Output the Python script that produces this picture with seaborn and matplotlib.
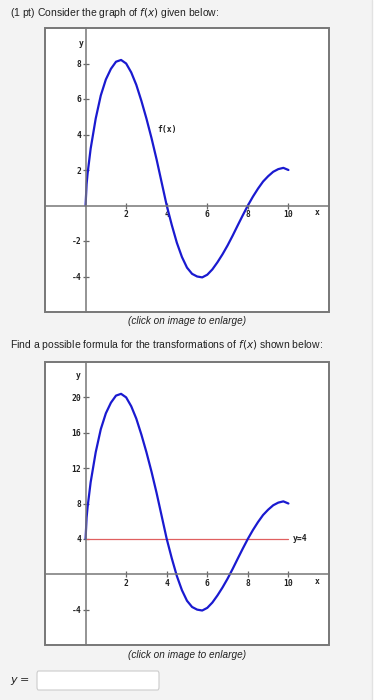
import matplotlib
matplotlib.use("Agg")
import matplotlib.pyplot as plt
import seaborn as sns
import pandas as pd
from matplotlib.patches import Rectangle, FancyBboxPatch

# values
x_vals = [0, 0.05, 0.1, 0.25, 0.5, 0.75, 1.0, 1.25, 1.5, 1.75, 2.0, 2.25, 2.5,
          2.75, 3.0, 3.25, 3.5, 3.75, 4.0, 4.25, 4.5, 4.75, 5.0, 5.25, 5.5,
          5.75, 6.0, 6.25, 6.5, 6.75, 7.0, 7.25, 7.5, 7.75, 8.0, 8.25, 8.5,
          8.75, 9.0, 9.25, 9.5, 9.75, 10.0]
f_vals = [0, 1.2, 1.8, 3.2, 4.9, 6.2, 7.1, 7.7, 8.1, 8.2, 8.0, 7.5, 6.8,
          5.9, 4.9, 3.8, 2.6, 1.3, 0.0, -1.1, -2.1, -2.9, -3.5, -3.85, -4.0,
          -4.05, -3.9, -3.6, -3.2, -2.75, -2.25, -1.7, -1.12, -0.55, 0.0, 0.5, 0.95,
          1.35, 1.65, 1.9, 2.05, 2.12, 2.0]
g_vals = [4, 6.4, 7.6, 10.4, 13.8, 16.4, 18.2, 19.4, 20.2, 20.4, 20.0, 19.0, 17.6,
          15.8, 13.8, 11.6, 9.2, 6.6, 4.0, 1.8, -0.2, -1.8, -3.0, -3.7, -4.0,
          -4.1, -3.8, -3.2, -2.4, -1.5, -0.5, 0.6, 1.76, 2.9, 4.0, 5.0, 5.9,
          6.7, 7.3, 7.8, 8.1, 8.24, 8.0]
line_x = [0, 10]
line_y = [4, 4]

top_xticks = [2, 4, 6, 8, 10]
top_yticks = [-4, -2, 2, 4, 6, 8]
bot_xticks = [2, 4, 6, 8, 10]
bot_yticks = [-4, 4, 8, 12, 16, 20]

df = pd.DataFrame({"x": x_vals, "f": f_vals, "g": g_vals})

sns.set_style("white")
plt.rcParams["font.family"] = ["Liberation Sans", "DejaVu Sans"]

fig = plt.figure(figsize=(3.74, 7.0), dpi=100)
fig.patch.set_facecolor("#f3f3f3")

tick_font = dict(family="DejaVu Sans Mono", weight="bold", size=5.8, color="#222222")


def setup_axes(ax, xlim, ylim, xticks, yticks):
    ax.set_facecolor("white")
    ax.set_xlim(*xlim)
    ax.set_ylim(*ylim)
    for side in ["top", "right"]:
        ax.spines[side].set_visible(False)
    ax.spines["left"].set_position(("data", 0))
    ax.spines["bottom"].set_position(("data", 0))
    for side in ["left", "bottom"]:
        ax.spines[side].set_color("#777777")
        ax.spines[side].set_linewidth(1.1)
    ax.add_patch(Rectangle((0, 0), 1, 1, transform=ax.transAxes, fill=False,
                           edgecolor="#777777", linewidth=1.4, zorder=5, clip_on=False))
    ax.set_xticks(xticks)
    ax.set_yticks(yticks)
    ax.tick_params(axis="both", bottom=True, left=True, direction="inout",
                   length=4, width=0.9, color="#666666", pad=1.2)
    ax.set_xticklabels([str(t) for t in xticks], fontdict=tick_font)
    ax.set_yticklabels([str(t) for t in yticks], fontdict=tick_font)
    ax.set_xlabel("")
    ax.set_ylabel("")


# top graph
ax1 = fig.add_axes([45 / 374, 1 - 312 / 700, 284 / 374, 284 / 700])
sns.lineplot(data=df, x="x", y="f", ax=ax1, color="#1a1ad0", linewidth=1.6,
             sort=False, estimator=None)
setup_axes(ax1, (-2, 12), (-6, 10), top_xticks, top_yticks)
ax1.text(-0.2, 9.1, "y", fontdict=tick_font, ha="center", va="center")
ax1.text(11.4, -0.4, "x", fontdict=tick_font, ha="center", va="center")
ax1.text(4.0, 4.3, "f(x)", fontdict=tick_font, ha="center", va="center")

# bottom graph
ax2 = fig.add_axes([45 / 374, 1 - 645 / 700, 284 / 374, 283 / 700])
sns.lineplot(x=line_x, y=line_y, ax=ax2, color="#e06060", linewidth=0.9)
sns.lineplot(data=df, x="x", y="g", ax=ax2, color="#1a1ad0", linewidth=1.6,
             sort=False, estimator=None)
setup_axes(ax2, (-2, 12), (-8, 24), bot_xticks, bot_yticks)
ax2.text(-0.35, 22.5, "y", fontdict=tick_font, ha="center", va="center")
ax2.text(11.4, -0.8, "x", fontdict=tick_font, ha="center", va="center")
ax2.text(10.2, 4, "y=4", fontdict=tick_font, ha="left", va="center")

# page text
fig.text(10 / 374, 1 - 13 / 700, "(1 pt) Consider the graph of $f(x)$ given below:",
         fontsize=7.5, color="#222222", va="center", ha="left")
fig.text(187 / 374, 1 - 321 / 700, "(click on image to enlarge)", fontsize=7.2,
         style="italic", color="#222222", ha="center", va="center")
fig.text(10 / 374, 1 - 345 / 700,
         "Find a possible formula for the transformations of $f(x)$ shown below:",
         fontsize=7.5, color="#222222", va="center", ha="left")
fig.text(187 / 374, 1 - 655 / 700, "(click on image to enlarge)", fontsize=7.2,
         style="italic", color="#222222", ha="center", va="center")
fig.text(10 / 374, 1 - 681 / 700, "$y =$", fontsize=8, color="#222222",
         va="center", ha="left")
fig.patches.append(FancyBboxPatch((37 / 374, 1 - 690 / 700), 122 / 374, 19 / 700,
                                  boxstyle="round,pad=0,rounding_size=0.004",
                                  transform=fig.transFigure, facecolor="white",
                                  edgecolor="#cccccc", linewidth=0.8))
fig.add_artist(plt.Line2D([372 / 374, 372 / 374], [0, 1], transform=fig.transFigure,
                          color="#e2e2e2", linewidth=1))
fig.patches.append(Rectangle((373 / 374, 0), 1 / 374, 1, transform=fig.transFigure,
                             facecolor="white", edgecolor="none"))

fig.savefig("out.png", dpi=100, facecolor=fig.get_facecolor())
